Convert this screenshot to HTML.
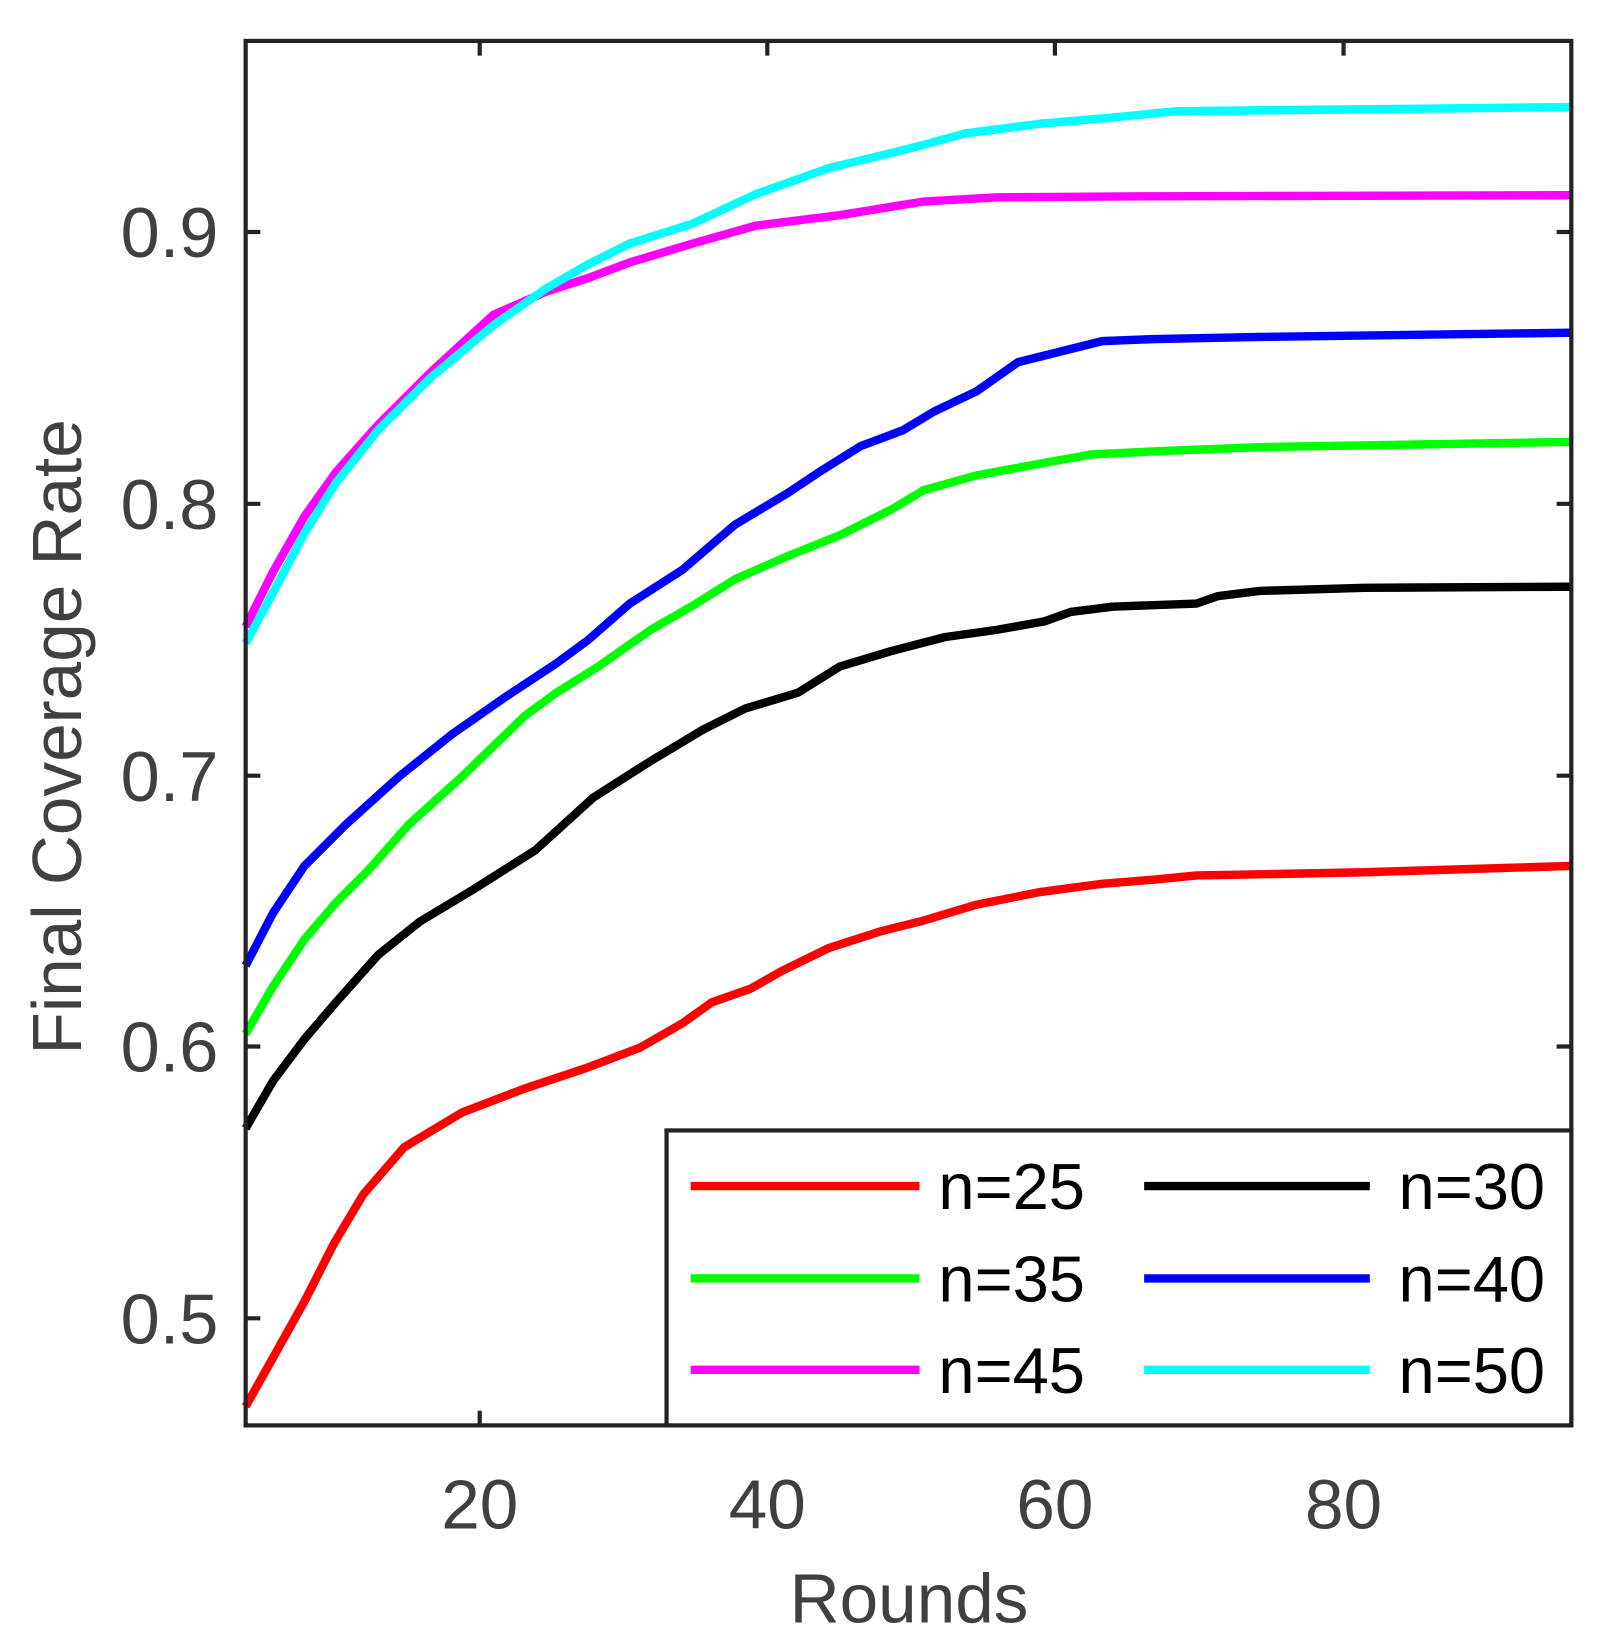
<!DOCTYPE html>
<html><head><style>html,body{margin:0;padding:0;background:#fff}svg{display:block}</style></head>
<body>
<svg width="1606" height="1637" viewBox="0 0 1530 1559.6" xmlns="http://www.w3.org/2000/svg" font-family="Liberation Sans, sans-serif">
<rect width="1530" height="1560" fill="#fff"/>
<g fill="none" stroke-width="8" stroke-linejoin="round" stroke-linecap="butt">
<polyline stroke="#ff0000" points="234,1340 262,1290 290,1240 318,1185 346,1138 385,1093 440,1060 500,1037 560,1017 610,998 650,975 678,955 715,942 745,925 790,903 840,887 880,877 930,862 990,850 1050,842 1100,838 1140,834 1200,833 1300,831 1497,825"/>
<polyline stroke="#000000" points="234,1075 260,1030 290,990 320,955 360,910 400,878 450,848 510,810 565,760 620,725 670,695 710,675 760,660 800,635 850,620 900,607 950,600 995,592 1020,583 1060,578 1140,575 1160,568 1200,563 1300,560 1497,559"/>
<polyline stroke="#00ff00" points="234,985 260,940 290,895 320,860 350,830 390,785 440,740 500,682 530,660 570,635 620,600 660,577 700,552 750,530 800,510 850,485 880,467 930,453 1000,440 1040,433 1100,430 1200,426 1497,421"/>
<polyline stroke="#0000ff" points="234,920 260,870 290,825 330,785 380,740 430,700 480,665 530,632 560,610 600,575 650,543 700,500 750,470 780,450 820,425 860,410 890,392 930,373 970,345 1010,335 1050,325 1100,323 1200,321 1497,317"/>
<polyline stroke="#ff00ff" points="234,597 260,545 290,492 320,450 360,405 410,355 470,300 520,278 560,265 600,250 660,232 720,215 800,205 880,192 950,188 1100,187 1497,186"/>
<polyline stroke="#00ffff" points="234,613 260,565 290,508 320,460 360,410 410,360 470,310 520,275 560,252 600,232 660,213 720,185 790,160 840,148 880,138 920,127 990,118 1060,112 1120,106 1497,102"/>
</g>
<g stroke="#222" stroke-width="4" fill="none">
<rect x="234" y="39" width="1263" height="1319"/>
<path d="M457,1358v-14M731,1358v-14M1005,1358v-14M1280,1358v-14M457,39v14M731,39v14M1005,39v14M1280,39v14"/>
<path d="M234,221h14M234,480h14M234,739h14M234,997h14M234,1256h14M1497,221h-14M1497,480h-14M1497,739h-14M1497,997h-14M1497,1256h-14"/>
</g>
<rect x="635" y="1077" width="862" height="281" fill="#fff" stroke="#222" stroke-width="4"/>
<g stroke-width="8">
<path d="M658,1130h218" stroke="#ff0000"/><path d="M1090,1130h215" stroke="#000"/>
<path d="M658,1218h218" stroke="#00ff00"/><path d="M1090,1218h215" stroke="#0000ff"/>
<path d="M658,1305h218" stroke="#ff00ff"/><path d="M1090,1305h215" stroke="#00ffff"/>
</g>
<g font-size="62" fill="#000">
<text x="894" y="1152">n=25</text><text x="1472" y="1152" text-anchor="end">n=30</text>
<text x="894" y="1240">n=35</text><text x="1472" y="1240" text-anchor="end">n=40</text>
<text x="894" y="1327">n=45</text><text x="1472" y="1327" text-anchor="end">n=50</text>
</g>
<g font-size="67" fill="#404040" text-anchor="end">
<text x="208" y="245">0.9</text><text x="208" y="504">0.8</text><text x="208" y="763">0.7</text><text x="208" y="1021">0.6</text><text x="208" y="1280">0.5</text>
</g>
<g font-size="66" fill="#404040" text-anchor="middle">
<text x="457" y="1456">20</text><text x="731" y="1456">40</text><text x="1005" y="1456">60</text><text x="1280" y="1456">80</text>
<text x="866" y="1546">Rounds</text>
<text transform="translate(77,702) rotate(-90)">Final Coverage Rate</text>
</g>
</svg>
</body></html>
